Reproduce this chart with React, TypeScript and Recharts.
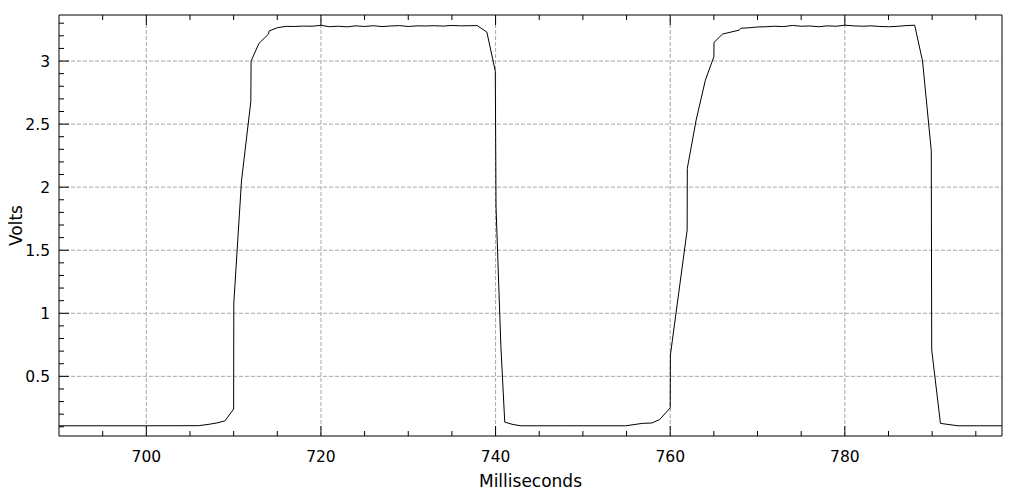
import React from 'react';
import { LineChart, Line, XAxis, YAxis, ReferenceLine } from 'recharts';

// Sampled waveform (milliseconds, volts)
const times: number[] = [
  690, 695, 700, 706, 707.2, 708.2, 709.0, 710.0, 710.02, 710.9, 711.97, 712.0, 712.9,
  714.0, 714.06, 715.0, 716.0, 717, 718, 719, 720, 721, 722, 723, 724, 725, 726, 727,
  728, 729, 730, 731, 732, 733, 734, 735, 736, 737.9, 739.0, 739.97, 740.05, 740.6,
  741.05, 742.0, 742.9, 748, 754.9, 756.8, 757.9, 758.8, 760.0, 760.02, 761.94, 761.96,
  762.97, 764.03, 765.0, 765.02, 766.0, 767.9, 768.1, 769.1, 770, 771, 772, 773, 774,
  775, 776, 777, 778, 779, 780, 781, 782, 783, 784, 785, 786, 787, 788.0, 788.9, 789.9,
  789.95, 790.95, 792.95, 798,
];
const volts: number[] = [
  0.108, 0.108, 0.108, 0.109, 0.12, 0.132, 0.147, 0.24, 1.08, 2.05, 2.68, 3.0, 3.14,
  3.214, 3.238, 3.264, 3.275, 3.274, 3.277, 3.276, 3.283, 3.272, 3.276, 3.271, 3.279, 3.274, 3.28, 3.273,
  3.278, 3.281, 3.274, 3.279, 3.278, 3.28, 3.277, 3.282, 3.279, 3.281, 3.23, 2.92, 1.85, 0.75,
  0.137, 0.118, 0.108, 0.108, 0.108, 0.127, 0.13, 0.158, 0.25, 0.668, 1.66, 2.149,
  2.532, 2.849, 3.034, 3.148, 3.214, 3.245, 3.26, 3.264, 3.27, 3.272, 3.276, 3.273, 3.282,
  3.276, 3.278, 3.272, 3.279, 3.276, 3.284, 3.279, 3.276, 3.279, 3.274, 3.272, 3.275, 3.281, 3.284, 3.0, 2.29,
  0.71, 0.127, 0.108, 0.108,
];

const xDomain: [number, number] = [690, 798];
const yDomain: [number, number] = [0.027, 3.365];

const xMajor = [700, 720, 740, 760, 780];
const xTicks = [
  695, 700, 705, 710, 715, 720, 725, 730, 735, 740, 745, 750, 755, 760, 765, 770, 775,
  780, 785, 790, 795,
];
const yMajor = [0.5, 1, 1.5, 2, 2.5, 3];
const yTicks = [
  0.1, 0.2, 0.3, 0.4, 0.5, 0.6, 0.7, 0.8, 0.9, 1, 1.1, 1.2, 1.3, 1.4, 1.5, 1.6, 1.7,
  1.8, 1.9, 2, 2.1, 2.2, 2.3, 2.4, 2.5, 2.6, 2.7, 2.8, 2.9, 3, 3.1, 3.2, 3.3,
];

const data = times.map((t, i) => ({ t, v: volts[i] }));

const FONT = '"DejaVu Sans", Verdana, sans-serif';
const TICK_FS = 15.5;
const TITLE_FS = 17;
const MAJOR_LEN = 10;
const MINOR_LEN = 5;
const GRID = '#a8a8a8';

const isMajor = (v: number, majors: number[]) => majors.some((m) => Math.abs(m - v) < 1e-6);

function BottomTick(props: any) {
  const { x, y, payload } = props;
  const major = isMajor(payload.value, xMajor);
  return (
    <g>
      <line x1={x} x2={x} y1={y} y2={y - (major ? MAJOR_LEN : MINOR_LEN)} stroke="#000" />
      {major && (
        <text x={x} y={y + 26} textAnchor="middle" fontFamily={FONT} fontSize={TICK_FS} fill="#000">
          {payload.value}
        </text>
      )}
    </g>
  );
}

function TopTick(props: any) {
  const { x, y, payload } = props;
  const major = isMajor(payload.value, xMajor);
  return <line x1={x} x2={x} y1={y} y2={y + (major ? MAJOR_LEN : MINOR_LEN)} stroke="#000" />;
}

function LeftTick(props: any) {
  const { x, y, payload } = props;
  const major = isMajor(payload.value, yMajor);
  return (
    <g>
      <line x1={x} x2={x + (major ? MAJOR_LEN : MINOR_LEN)} y1={y} y2={y} stroke="#000" />
      {major && (
        <text x={x - 9} y={y} dy="0.36em" textAnchor="end" fontFamily={FONT} fontSize={TICK_FS} fill="#000">
          {String(payload.value)}
        </text>
      )}
    </g>
  );
}

function RightTick(props: any) {
  const { x, y, payload } = props;
  const major = isMajor(payload.value, yMajor);
  return <line x1={x} x2={x - (major ? MAJOR_LEN : MINOR_LEN)} y1={y} y2={y} stroke="#000" />;
}

export default function App() {
  return (
    <LineChart
      width={1016}
      height={485}
      data={data}
      margin={{ top: 6, right: 21, bottom: 0, left: 0 }}
    >
      <XAxis
        xAxisId="bottom"
        orientation="bottom"
        dataKey="t"
        type="number"
        domain={xDomain}
        ticks={xTicks}
        interval={0}
        tickSize={0}
        tickMargin={0}
        tickLine={false}
        tick={<BottomTick />}
        height={57}
        axisLine={{ stroke: '#000' }}
        label={{
          value: 'Milliseconds',
          position: 'insideBottom',
          offset: 6,
          fill: '#000',
          fontSize: TITLE_FS,
          fontFamily: FONT,
        }}
      />
      <XAxis
        xAxisId="top"
        orientation="top"
        dataKey="t"
        type="number"
        domain={xDomain}
        ticks={xTicks}
        interval={0}
        tickSize={0}
        tickMargin={0}
        tickLine={false}
        tick={<TopTick />}
        height={1}
        axisLine={{ stroke: '#000' }}
      />
      <YAxis
        yAxisId="left"
        orientation="left"
        type="number"
        domain={yDomain}
        ticks={yTicks}
        interval={0}
        tickSize={0}
        tickMargin={0}
        tickLine={false}
        tick={<LeftTick />}
        width={51}
        axisLine={{ stroke: '#000' }}
        label={{
          value: 'Volts',
          angle: -90,
          position: 'insideLeft',
          offset: 8,
          fill: '#000',
          fontSize: TITLE_FS,
          fontFamily: FONT,
          style: { textAnchor: 'middle' },
        }}
      />
      <YAxis
        yAxisId="right"
        orientation="right"
        type="number"
        domain={yDomain}
        ticks={yTicks}
        interval={0}
        tickSize={0}
        tickMargin={0}
        tickLine={false}
        tick={<RightTick />}
        width={1}
        axisLine={{ stroke: '#000' }}
      />
      {xMajor.map((v) => (
        <ReferenceLine
          key={'gx' + v}
          x={v}
          xAxisId="bottom"
          yAxisId="left"
          stroke={GRID}
          strokeDasharray="4 2"
        />
      ))}
      {yMajor.map((v) => (
        <ReferenceLine
          key={'gy' + v}
          y={v}
          xAxisId="bottom"
          yAxisId="left"
          stroke={GRID}
          strokeDasharray="4 2"
        />
      ))}
      <Line
        xAxisId="bottom"
        yAxisId="left"
        type="linear"
        dataKey="v"
        stroke="#000"
        strokeWidth={1}
        dot={false}
        activeDot={false}
        isAnimationActive={false}
      />
    </LineChart>
  );
}
